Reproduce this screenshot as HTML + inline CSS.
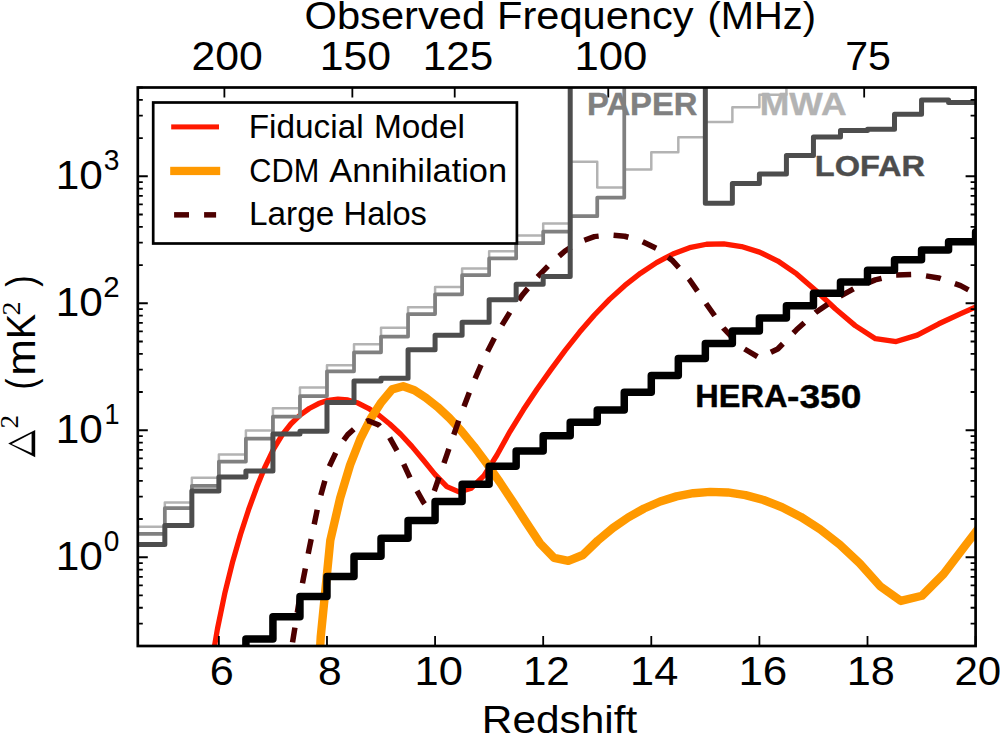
<!DOCTYPE html><html><head><meta charset="utf-8"><style>html,body{margin:0;padding:0;background:#fff;width:1000px;height:734px;overflow:hidden}svg{display:block}</style></head><body>
<svg width="1000" height="734" viewBox="0 0 1000 734">
<defs><clipPath id="ax"><rect x="137.8" y="87.5" width="837.8" height="558.5"/></clipPath></defs>
<rect width="1000" height="734" fill="#fff"/>
<path d="M213.50,652.00 L217.49,628.64 L225.03,592.28 L232.72,561.48 L240.57,534.26 L248.57,509.71 L256.73,487.34 L265.05,466.82 L273.54,449.05 L282.20,434.84 L291.04,423.74 L300.05,415.13 L309.24,408.48 L318.61,403.54 L328.17,400.34 L337.93,399.04 L347.88,399.95 L358.02,403.09 L368.37,408.26 L378.93,415.27 L389.70,423.97 L400.68,434.27 L411.89,446.33 L423.31,459.96 L434.97,474.42 L446.86,486.64 L458.98,491.88 L471.35,488.11 L483.97,475.56 L496.84,455.22 L509.97,431.58 L523.36,409.78 L537.01,389.29 L550.94,369.60 L565.15,350.42 L579.64,332.09 L594.43,315.00 L609.50,299.41 L624.88,285.45 L640.57,273.17 L656.57,262.59 L672.89,253.97 L689.54,247.71 L706.52,244.24 L723.84,243.89 L741.51,246.52 L759.53,252.12 L777.91,261.04 L796.66,273.94 L815.78,290.53 L835.28,308.78 L855.18,325.62 L875.47,338.72 L896.17,341.52 L917.29,335.10 L938.82,323.78 L960.79,313.71 L983.19,303.64 L985.00,302.80" fill="none" stroke="#ff1900" stroke-width="5.3" stroke-linejoin="round" stroke-linecap="butt" clip-path="url(#ax)"/>
<path d="M319.90,652.00 L320.70,637.23 L330.30,540.37 L340.10,498.23 L350.09,464.95 L360.28,439.01 L370.68,418.66 L381.28,402.33 L392.10,389.36 L403.13,386.32 L414.38,390.25 L425.86,397.68 L437.56,406.93 L449.51,418.11 L461.69,431.35 L474.11,446.59 L486.78,463.54 L499.71,482.02 L512.89,501.83 L526.34,522.60 L540.05,543.39 L554.04,557.83 L568.31,560.78 L582.87,555.01 L597.72,540.62 L612.86,528.02 L628.31,517.34 L644.06,508.50 L660.14,501.50 L676.53,496.38 L693.25,493.19 L710.30,491.87 L727.70,492.46 L745.44,495.13 L763.54,500.02 L782.00,507.22 L800.83,516.90 L820.04,529.24 L839.63,544.53 L859.61,563.21 L879.99,586.07 L900.78,600.92 L921.99,595.78 L943.62,574.01 L965.68,545.02 L985.00,520.00" fill="none" stroke="#ff9900" stroke-width="8.4" stroke-linejoin="round" stroke-linecap="butt" clip-path="url(#ax)"/>
<path d="M291.00,652.00 L299.96,596.09 L309.15,548.98 L318.52,503.44 L328.08,469.12 L337.83,448.38 L347.78,434.63 L357.92,425.40 L368.27,420.69 L378.82,425.02 L389.59,437.50 L400.57,457.20 L411.77,481.68 L423.20,501.89 L425.00,504.40" fill="none" stroke="#4d0000" stroke-width="5.5" stroke-linejoin="round" stroke-linecap="butt" stroke-dasharray="15 15" stroke-dashoffset="20.28" clip-path="url(#ax)"/>
<path d="M434.30,491.00 L434.85,489.45 L446.74,455.05 L458.86,420.12 L471.23,387.46 L483.84,358.57 L496.71,333.66 L509.83,312.33 L523.22,293.92 L536.87,277.70 L550.80,263.23 L565.01,251.02 L579.50,241.98 L594.28,236.62 L609.35,234.89 L624.73,236.23 L640.41,240.56 L656.41,248.35 L672.73,260.81 L689.37,279.54 L706.35,303.95 L723.67,328.42 L741.33,347.05 L759.35,357.85 L777.72,349.01 L796.47,329.83 L815.59,312.60 L835.09,299.01 L854.98,288.12 L875.27,279.86 L895.96,274.99 L917.07,274.34 L938.60,277.95 L960.56,285.63 L982.97,297.67 L985.00,299.00" fill="none" stroke="#4d0000" stroke-width="5.5" stroke-linejoin="round" stroke-linecap="butt" stroke-dasharray="15 15" stroke-dashoffset="0.47" clip-path="url(#ax)"/>
<path d="M137.80,526.70 H164.83 V502.40 H191.85 V477.80 H218.88 V454.40 H245.90 V430.50 H272.93 V408.30 H299.95 V387.50 H326.98 V365.20 H354.01 V344.20 H381.03 V327.80 H408.06 V307.30 H435.08 V287.10 H462.11 V268.60 H489.14 V251.20 H516.16 V235.50 H543.19 V223.60 H570.21 V161.80 H597.24 V187.40 H624.26 V169.40 H651.29 V152.30 H678.32 V137.20 H705.34 V122.10 H732.37 V107.30 H759.39 V94.70 H786.42 V-50.00 H813.45 V-50.00 H840.47 V-50.00 H867.50 V-50.00 H894.52 V-50.00 H921.55 V-50.00 H948.57 V-50.00 H975.60" fill="none" stroke="#b3b3b3" stroke-width="2.5" stroke-linejoin="round" stroke-linecap="butt" clip-path="url(#ax)"/>
<path d="M137.80,533.80 H164.83 V508.20 H191.85 V485.80 H218.88 V461.60 H245.90 V438.50 H272.93 V416.60 H299.95 V396.10 H326.98 V371.30 H354.01 V352.30 H381.03 V336.60 H408.06 V314.10 H435.08 V294.30 H462.11 V275.20 H489.14 V258.40 H516.16 V243.20 H543.19 V231.60 H570.21 V216.20 H597.24 V197.50 H624.26 V-50.00 H651.29 V-50.00 H678.32 V-50.00 H705.34 V-50.00 H732.37 V-50.00 H759.39 V-50.00 H786.42 V-50.00 H813.45 V-50.00 H840.47 V-50.00 H867.50 V-50.00 H894.52 V-50.00 H921.55 V-50.00 H948.57 V-50.00 H975.60" fill="none" stroke="#808080" stroke-width="3.75" stroke-linejoin="round" stroke-linecap="butt" clip-path="url(#ax)"/>
<path d="M137.80,544.50 H164.83 V525.50 H191.85 V491.00 H218.88 V477.00 H245.90 V470.90 H272.93 V434.00 H299.95 V431.20 H326.98 V402.40 H354.01 V380.90 H381.03 V378.30 H408.06 V349.80 H435.08 V335.30 H462.11 V322.30 H489.14 V299.80 H516.16 V284.20 H543.19 V276.40 H570.21 V-50.00 H597.24 V-50.00 H624.26 V-50.00 H651.29 V-50.00 H678.32 V-50.00 H705.34 V203.20 H732.37 V183.50 H759.39 V174.00 H786.42 V155.50 H813.45 V137.00 H840.47 V130.40 H867.50 V129.20 H894.52 V114.20 H921.55 V100.00 H948.57 V102.50 H975.60" fill="none" stroke="#4d4d4d" stroke-width="5" stroke-linejoin="round" stroke-linecap="butt" clip-path="url(#ax)"/>
<path d="M137.80,800.00 H164.83 V800.00 H191.85 V800.00 H218.88 V800.00 H245.90 V639.00 H272.93 V616.80 H299.95 V596.50 H326.98 V576.40 H354.01 V556.20 H381.03 V538.30 H408.06 V520.60 H435.08 V501.60 H462.11 V484.20 H489.14 V466.20 H516.16 V451.00 H543.19 V435.80 H570.21 V422.30 H597.24 V409.90 H624.26 V392.20 H651.29 V375.50 H678.32 V358.50 H705.34 V343.50 H732.37 V330.90 H759.39 V318.10 H786.42 V305.80 H813.45 V293.30 H840.47 V282.10 H867.50 V270.30 H894.52 V259.70 H921.55 V250.10 H948.57 V241.80 H975.60 V232.00 H1002.63" fill="none" stroke="#000" stroke-width="7.5" stroke-linejoin="round" stroke-linecap="butt" clip-path="url(#ax)"/>
<rect x="153.2" y="102.5" width="363.7" height="141" fill="#fff" stroke="#000" stroke-width="2.7"/>
<rect x="171.2" y="124.4" width="47.8" height="5" fill="#ff1900"/>
<rect x="170.2" y="166.8" width="50" height="8.3" fill="#ff9900"/>
<rect x="174.1" y="212.1" width="14.9" height="5.5" fill="#4d0000"/>
<rect x="204.1" y="212.1" width="12" height="5.5" fill="#4d0000"/>
<path d="M218.88,646.0 V636.0 M326.98,646.0 V636.0 M435.08,646.0 V636.0 M543.19,646.0 V636.0 M651.29,646.0 V636.0 M759.39,646.0 V636.0 M867.50,646.0 V636.0 M975.60,646.0 V636.0 M224.39,87.5 V97.5 M352.35,87.5 V97.5 M454.72,87.5 V97.5 M608.27,87.5 V97.5 M864.18,87.5 V97.5 M137.8,646.00 H142.8 M975.6,646.00 H970.6 M137.8,623.64 H142.8 M975.6,623.64 H970.6 M137.8,607.77 H142.8 M975.6,607.77 H970.6 M137.8,595.47 H142.8 M975.6,595.47 H970.6 M137.8,585.41 H142.8 M975.6,585.41 H970.6 M137.8,576.91 H142.8 M975.6,576.91 H970.6 M137.8,569.54 H142.8 M975.6,569.54 H970.6 M137.8,563.05 H142.8 M975.6,563.05 H970.6 M137.8,557.24 H147.8 M975.6,557.24 H965.6 M137.8,519.01 H142.8 M975.6,519.01 H970.6 M137.8,496.65 H142.8 M975.6,496.65 H970.6 M137.8,480.78 H142.8 M975.6,480.78 H970.6 M137.8,468.47 H142.8 M975.6,468.47 H970.6 M137.8,458.42 H142.8 M975.6,458.42 H970.6 M137.8,449.92 H142.8 M975.6,449.92 H970.6 M137.8,442.55 H142.8 M975.6,442.55 H970.6 M137.8,436.06 H142.8 M975.6,436.06 H970.6 M137.8,430.25 H147.8 M975.6,430.25 H965.6 M137.8,392.02 H142.8 M975.6,392.02 H970.6 M137.8,369.66 H142.8 M975.6,369.66 H970.6 M137.8,353.79 H142.8 M975.6,353.79 H970.6 M137.8,341.48 H142.8 M975.6,341.48 H970.6 M137.8,331.43 H142.8 M975.6,331.43 H970.6 M137.8,322.93 H142.8 M975.6,322.93 H970.6 M137.8,315.56 H142.8 M975.6,315.56 H970.6 M137.8,309.07 H142.8 M975.6,309.07 H970.6 M137.8,303.25 H147.8 M975.6,303.25 H965.6 M137.8,265.03 H142.8 M975.6,265.03 H970.6 M137.8,242.66 H142.8 M975.6,242.66 H970.6 M137.8,226.80 H142.8 M975.6,226.80 H970.6 M137.8,214.49 H142.8 M975.6,214.49 H970.6 M137.8,204.44 H142.8 M975.6,204.44 H970.6 M137.8,195.93 H142.8 M975.6,195.93 H970.6 M137.8,188.57 H142.8 M975.6,188.57 H970.6 M137.8,182.07 H142.8 M975.6,182.07 H970.6 M137.8,176.26 H147.8 M975.6,176.26 H965.6 M137.8,138.03 H142.8 M975.6,138.03 H970.6 M137.8,115.67 H142.8 M975.6,115.67 H970.6 M137.8,99.81 H142.8 M975.6,99.81 H970.6 M137.8,87.50 H142.8 M975.6,87.50 H970.6" stroke="#000" stroke-width="1.8" fill="none"/>
<rect x="137.8" y="87.5" width="837.8" height="558.5" fill="none" stroke="#000" stroke-width="2.7"/>
<text transform="translate(586.99,115.40) scale(1.0338,1)" font-family="Liberation Sans" font-weight="bold" font-size="31.71" fill="#808080" stroke="#808080" stroke-width="0.4" stroke-linejoin="round">PAPER</text>
<text transform="translate(759.80,115.40) scale(1.1192,1)" font-family="Liberation Sans" font-weight="bold" font-size="31.71" fill="#b3b3b3" stroke="#b3b3b3" stroke-width="0.4" stroke-linejoin="round">MWA</text>
<text transform="translate(814.80,175.50) scale(1.0872,1)" font-family="Liberation Sans" font-weight="bold" font-size="29.96" fill="#4d4d4d" stroke="#4d4d4d" stroke-width="0.4" stroke-linejoin="round">LOFAR</text>
<text transform="translate(695.20,407.40) scale(1.0557,1)" font-family="Liberation Sans" font-weight="bold" font-size="30.84" fill="#000" stroke="#000" stroke-width="0.4" stroke-linejoin="round">HERA</text>
<text transform="translate(787.11,408.00) scale(1.1461,1)" font-family="Liberation Sans" font-weight="bold" font-size="32.40" fill="#000" stroke="#000" stroke-width="0.4" stroke-linejoin="round">-350</text>
<text transform="translate(248.65,137.60) scale(1.0157,1)" font-family="Liberation Sans" font-weight="normal" font-size="32.87" fill="#000">Fiducial</text>
<text transform="translate(373.94,137.60) scale(1.0172,1)" font-family="Liberation Sans" font-weight="normal" font-size="32.87" fill="#000">Model</text>
<text transform="translate(249.36,181.50) scale(0.9346,1)" font-family="Liberation Sans" font-weight="normal" font-size="32.87" fill="#000">CDM</text>
<text transform="translate(329.31,181.50) scale(1.0469,1)" font-family="Liberation Sans" font-weight="normal" font-size="32.87" fill="#000">Annihilation</text>
<text transform="translate(249.05,225.40) scale(1.0277,1)" font-family="Liberation Sans" font-weight="normal" font-size="32.44" fill="#000">Large</text>
<text transform="translate(343.61,225.40) scale(1.0043,1)" font-family="Liberation Sans" font-weight="normal" font-size="32.44" fill="#000">Halos</text>
<text transform="translate(304.52,28.50) scale(1.0613,1)" font-family="Liberation Sans" font-weight="normal" font-size="39.27" fill="#000">Observed</text>
<text transform="translate(497.07,28.50) scale(1.0591,1)" font-family="Liberation Sans" font-weight="normal" font-size="39.27" fill="#000">Frequency</text>
<text transform="translate(707.51,28.50) scale(1.0146,1)" font-family="Liberation Sans" font-weight="normal" font-size="39.27" fill="#000">(MHz)</text>
<text transform="translate(481.80,733.00) scale(1.0878,1)" font-family="Liberation Sans" font-weight="normal" font-size="38.98" fill="#000">Redshift</text>
<text transform="translate(191.41,69.50) scale(1.0604,1)" font-family="Liberation Sans" font-weight="normal" font-size="40.29" fill="#000">200</text>
<text transform="translate(319.69,69.50) scale(1.0615,1)" font-family="Liberation Sans" font-weight="normal" font-size="40.29" fill="#000">150</text>
<text transform="translate(422.73,69.50) scale(1.0488,1)" font-family="Liberation Sans" font-weight="normal" font-size="40.29" fill="#000">125</text>
<text transform="translate(574.42,69.50) scale(1.0855,1)" font-family="Liberation Sans" font-weight="normal" font-size="40.29" fill="#000">100</text>
<text transform="translate(845.14,69.50) scale(1.0051,1)" font-family="Liberation Sans" font-weight="normal" font-size="40.87" fill="#000">75</text>
<text transform="translate(209.64,685.20) scale(1.0546,1)" font-family="Liberation Sans" font-weight="normal" font-size="41.00" fill="#000">6</text>
<text transform="translate(317.99,685.20) scale(1.0378,1)" font-family="Liberation Sans" font-weight="normal" font-size="41.00" fill="#000">8</text>
<text transform="translate(414.44,685.20) scale(1.0611,1)" font-family="Liberation Sans" font-weight="normal" font-size="41.00" fill="#000">10</text>
<text transform="translate(522.94,685.20) scale(1.0274,1)" font-family="Liberation Sans" font-weight="normal" font-size="41.00" fill="#000">12</text>
<text transform="translate(630.05,685.20) scale(1.0427,1)" font-family="Liberation Sans" font-weight="normal" font-size="41.60" fill="#000">14</text>
<text transform="translate(738.40,685.20) scale(1.0738,1)" font-family="Liberation Sans" font-weight="normal" font-size="41.00" fill="#000">16</text>
<text transform="translate(846.76,685.20) scale(1.0540,1)" font-family="Liberation Sans" font-weight="normal" font-size="41.00" fill="#000">18</text>
<text transform="translate(954.40,685.20) scale(1.0256,1)" font-family="Liberation Sans" font-weight="normal" font-size="41.00" fill="#000">20</text>
<text transform="translate(55.83,570.14) scale(1.0501,1)" font-family="Liberation Sans" font-weight="normal" font-size="40.29" fill="#000">10</text>
<text transform="translate(103.68,550.84) scale(0.9787,1)" font-family="Liberation Sans" font-weight="normal" font-size="28.67" fill="#000">0</text>
<text transform="translate(55.83,443.15) scale(1.0501,1)" font-family="Liberation Sans" font-weight="normal" font-size="40.29" fill="#000">10</text>
<text transform="translate(104.47,423.85) scale(0.9299,1)" font-family="Liberation Sans" font-weight="normal" font-size="29.09" fill="#000">1</text>
<text transform="translate(55.83,316.15) scale(1.0501,1)" font-family="Liberation Sans" font-weight="normal" font-size="40.29" fill="#000">10</text>
<text transform="translate(103.33,296.85) scale(1.0271,1)" font-family="Liberation Sans" font-weight="normal" font-size="28.67" fill="#000">2</text>
<text transform="translate(55.83,189.16) scale(1.0501,1)" font-family="Liberation Sans" font-weight="normal" font-size="40.29" fill="#000">10</text>
<text transform="translate(103.74,169.86) scale(0.9838,1)" font-family="Liberation Sans" font-weight="normal" font-size="28.67" fill="#000">3</text>
<g transform="translate(35.2,457.2) rotate(-90)">
<path fill-rule="evenodd" fill="#000" d="M0,0 L27.2,0 L13.6,-27 Z M4.2,-3.6 L23.6,-3.6 L13.2,-23.6 Z"/>
<text transform="translate(28.77,-17.50) scale(1.0619,1)" font-family="Liberation Serif" font-weight="normal" font-size="25.66" fill="#000">2</text>
<text transform="translate(67.63,0.00) scale(0.8229,1)" font-family="Liberation Sans" font-weight="normal" font-size="40.28" fill="#000">(</text>
<text transform="translate(81.42,0.00) scale(1.0934,1)" font-family="Liberation Sans" font-weight="normal" font-size="40.37" fill="#000">m</text>
<text transform="translate(118.17,0.00) scale(0.9408,1)" font-family="Liberation Sans" font-weight="normal" font-size="40.29" fill="#000">K</text>
<text transform="translate(141.74,-15.70) scale(1.0723,1)" font-family="Liberation Serif" font-weight="normal" font-size="26.11" fill="#000">2</text>
<text transform="translate(170.44,0.00) scale(0.8513,1)" font-family="Liberation Sans" font-weight="normal" font-size="40.28" fill="#000">)</text>
</g>
</svg></body></html>
